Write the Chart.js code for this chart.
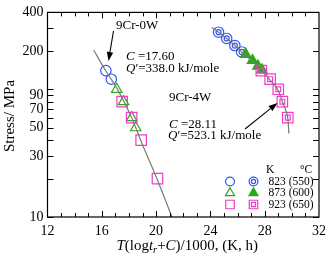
<!DOCTYPE html>
<html><head><meta charset="utf-8">
<script src="https://cdn.jsdelivr.net/npm/chart.js@4.4.0/dist/chart.umd.min.js"></script>
<style>html,body{margin:0;padding:0;background:#fff}</style>
</head><body>
<canvas id="c" width="332" height="260" style="display:block;width:332px;height:260px"></canvas>
<script>
// ---- tick labels ----
const xTickLabels = [12, 16, 20, 24, 28, 32];
const yTickLabels = [10, 30, 50, 70, 90, 200, 400];
const yMinorTicks = [20, 40, 60, 80, 100, 300];

// ---- 9Cr-0W (open markers) ----
const lmp0W_823 = [16.3, 16.7];
const sig0W_823 = [140, 120];
const lmp0W_873 = [17.1, 17.6, 18.2, 18.5];
const sig0W_873 = [100, 80, 60, 50];
const lmp0W_923 = [17.5, 18.2, 18.9, 20.1];
const sig0W_923 = [80, 60, 40, 20];
const fit0W_lmp = [15.4, 16.3, 17.2, 18.2, 18.9, 20.1, 21.25];
const fit0W_sig = [203, 139, 98, 60, 39, 19.5, 9.5];

// ---- 9Cr-4W (double / filled markers) ----
const lmp4W_823 = [24.6, 25.2, 25.8, 26.3];
const sig4W_823 = [280, 250, 220, 196];
const lmp4W_873 = [26.6, 27.1, 27.5, 27.8];
const sig4W_873 = [188, 168, 152, 142];
const lmp4W_923 = [27.75, 28.4, 29.0, 29.3, 29.7];
const sig4W_923 = [140, 120, 100, 80, 60];
const fit4W_lmp = [24.1, 24.6, 25.2, 25.8, 26.3, 26.9, 27.5, 28.0, 28.4, 29.0, 29.3, 29.58, 29.72, 29.78];
const fit4W_sig = [305, 280, 250, 220, 196, 172, 151, 133, 118, 98, 80, 67, 57, 45];

const BLUE = '#2f55f5', GREEN = '#2aa818', MAG = '#f23cc8', GRAY = '#7a7a7a';
const SERIF = "'Liberation Serif','Times New Roman',serif";

const pts = (xs, ys) => xs.map((x, i) => ({x: x, y: ys[i]}));
const marker = (xs, ys, style, r, color, fill, bw) => ({
  data: pts(xs, ys), pointStyle: style, pointRadius: r, pointBorderColor: color,
  pointBackgroundColor: fill, pointBorderWidth: bw || 1.2, showLine: false, clip: false
});
const fitLine = (xs, ys) => ({
  data: pts(xs, ys), showLine: true, pointRadius: 0, borderColor: GRAY, borderWidth: 1.2,
  cubicInterpolationMode: 'monotone', fill: false, clip: 0
});

const datasets = [
  fitLine(fit0W_lmp, fit0W_sig),
  fitLine(fit4W_lmp, fit4W_sig),
  marker(lmp0W_923, sig0W_923, 'rect', 7.4, MAG, 'rgba(0,0,0,0)'),
  marker(lmp0W_873, sig0W_873, 'triangle', 6.0, GREEN, 'rgba(0,0,0,0)'),
  marker(lmp0W_823, sig0W_823, 'circle', 5.2, BLUE, 'rgba(0,0,0,0)'),
  marker(lmp4W_923, sig4W_923, 'rect', 7.4, MAG, 'rgba(0,0,0,0)'),
  marker(lmp4W_923, sig4W_923, 'rect', 3.4, MAG, 'rgba(0,0,0,0)'),
  marker(lmp4W_873, sig4W_873, 'triangle', 6.0, GREEN, GREEN),
  marker(lmp4W_823, sig4W_823, 'circle', 5.2, BLUE, 'rgba(0,0,0,0)'),
  marker(lmp4W_823, sig4W_823, 'circle', 2.5, BLUE, 'rgba(0,0,0,0)')
];

function drawRich(ctx, segs, x, y, size, align) {
  let total = 0;
  const widths = segs.map(s => {
    const fs = s.sub ? size * 0.7 : size;
    ctx.font = (s.italic ? 'italic ' : '') + fs + 'px ' + SERIF;
    const w = ctx.measureText(s.t).width;
    total += w; return w;
  });
  let cx = align === 'center' ? x - total / 2 : x;
  segs.forEach((s, i) => {
    const fs = s.sub ? size * 0.7 : size;
    ctx.font = (s.italic ? 'italic ' : '') + fs + 'px ' + SERIF;
    ctx.fillText(s.t, cx, y + (s.sub ? size * 0.25 : 0));
    cx += widths[i];
  });
}

function arrow(ctx, x1, y1, x2, y2) {
  const a = Math.atan2(y2 - y1, x2 - x1), L = 9, W = 3.2;
  ctx.beginPath(); ctx.moveTo(x1, y1);
  ctx.lineTo(x2 - L * Math.cos(a), y2 - L * Math.sin(a)); ctx.stroke();
  ctx.beginPath(); ctx.moveTo(x2, y2);
  ctx.lineTo(x2 - L * Math.cos(a) + W * Math.sin(a), y2 - L * Math.sin(a) - W * Math.cos(a));
  ctx.lineTo(x2 - L * Math.cos(a) - W * Math.sin(a), y2 - L * Math.sin(a) + W * Math.cos(a));
  ctx.closePath(); ctx.fill();
}

const decor = {
  id: 'decor',
  afterDraw(chart) {
    const ctx = chart.ctx, a = chart.chartArea;
    const xs = chart.scales.x, ys = chart.scales.y;
    ctx.save();
    ctx.strokeStyle = '#000'; ctx.fillStyle = '#000'; ctx.lineWidth = 1.2;
    ctx.strokeRect(a.left, a.top, a.right - a.left, a.bottom - a.top);
    ctx.lineWidth = 1;
    for (let v = xTickLabels[0] + 1; v < xTickLabels[xTickLabels.length - 1]; v++) {
      const px = Math.round(xs.getPixelForValue(v)) + 0.5;
      const len = xTickLabels.includes(v) ? 6 : 4;
      ctx.beginPath();
      ctx.moveTo(px, a.bottom); ctx.lineTo(px, a.bottom - len);
      ctx.moveTo(px, a.top); ctx.lineTo(px, a.top + len);
      ctx.stroke();
    }
    yTickLabels.concat(yMinorTicks).forEach(v => {
      const py = Math.round(ys.getPixelForValue(v)) + 0.5;
      ctx.beginPath();
      ctx.moveTo(a.left, py); ctx.lineTo(a.left + 6, py);
      ctx.moveTo(a.right, py); ctx.lineTo(a.right - 6, py);
      ctx.stroke();
    });
    // annotations
    ctx.textBaseline = 'middle'; ctx.textAlign = 'left';
    drawRich(ctx, [{t: '9Cr-0W'}], 116, 26, 13);
    drawRich(ctx, [{t: 'C', italic: true}, {t: ' =17.60'}], 126, 57, 13);
    drawRich(ctx, [{t: 'Q', italic: true}, {t: '\u2032'}, {t: '=338.0 kJ/mole'}], 126, 68.5, 13);
    drawRich(ctx, [{t: '9Cr-4W'}], 169, 98, 13);
    drawRich(ctx, [{t: 'C', italic: true}, {t: ' =28.11'}], 169, 125, 13);
    drawRich(ctx, [{t: 'Q', italic: true}, {t: '\u2032'}, {t: '=523.1 kJ/mole'}], 168, 135.5, 13);
    ctx.lineWidth = 1.1;
    arrow(ctx, 113.5, 31, 108.5, 61);
    arrow(ctx, 245, 129, 277.5, 103);
    // legend
    drawRich(ctx, [{t: 'K'}], 266, 169.5, 11.5);
    drawRich(ctx, [{t: '\u00B0C'}], 300, 169.5, 11.5);
    const rows = [
      {y: 181.5, c: BLUE, s: 'circle', r: 4.4, txt: '823 (550)'},
      {y: 193, c: GREEN, s: 'triangle', r: 5.2, txt: '873 (600)'},
      {y: 204.5, c: MAG, s: 'rect', r: 6.0, txt: '923 (650)'}
    ];
    rows.forEach(rw => {
      ctx.strokeStyle = rw.c; ctx.lineWidth = 1.2;
      ctx.fillStyle = 'rgba(0,0,0,0)';
      Chart.helpers.drawPoint(ctx, {pointStyle: rw.s, radius: rw.r, borderWidth: 1.2, rotation: 0}, 230, rw.y);
      ctx.fillStyle = rw.s === 'triangle' ? rw.c : 'rgba(0,0,0,0)';
      Chart.helpers.drawPoint(ctx, {pointStyle: rw.s, radius: rw.r, borderWidth: 1.2, rotation: 0}, 253.5, rw.y);
      if (rw.s !== 'triangle') {
        ctx.fillStyle = 'rgba(0,0,0,0)';
        Chart.helpers.drawPoint(ctx, {pointStyle: rw.s, radius: rw.r * 0.48, borderWidth: 1.2, rotation: 0}, 253.5, rw.y);
      }
      ctx.fillStyle = '#000';
      drawRich(ctx, [{t: rw.txt}], 268.5, rw.y, 11.5);
    });
    // axis titles
    ctx.fillStyle = '#000';
    drawRich(ctx, [{t: 'T', italic: true}, {t: '(log'}, {t: 't', italic: true}, {t: 'r', italic: true, sub: true},
      {t: '+'}, {t: 'C', italic: true}, {t: ')/1000, (K, h)'}], (a.left + a.right) / 2 + 4, 246.5, 15, 'center');
    ctx.save();
    ctx.translate(10, 116); ctx.rotate(-Math.PI / 2);
    drawRich(ctx, [{t: 'Stress/ MPa'}], 0, 0, 15, 'center');
    ctx.restore();
    ctx.restore();
  }
};

new Chart(document.getElementById('c'), {
  type: 'scatter',
  data: {datasets: datasets},
  plugins: [decor],
  options: {
    responsive: false, animation: false, events: [],
    layout: {padding: {top: 7, right: 9, left: 0, bottom: 0}},
    plugins: {legend: {display: false}, tooltip: {enabled: false}},
    scales: {
      x: {
        type: 'linear', min: 12, max: 32,
        grid: {display: false, drawTicks: false}, border: {display: false},
        afterBuildTicks: s => { s.ticks = xTickLabels.map(v => ({value: v})); },
        ticks: {padding: 6, color: '#000', font: {family: SERIF, size: 14}, maxRotation: 0, autoSkip: false},
        afterFit: s => { s.height = 43; }
      },
      y: {
        type: 'logarithmic', min: 10, max: 400,
        grid: {display: false, drawTicks: false}, border: {display: false},
        afterBuildTicks: s => { s.ticks = yTickLabels.map(v => ({value: v})); },
        ticks: {padding: 4, color: '#000', font: {family: SERIF, size: 14}, autoSkip: false,
          callback: v => String(v)},
        afterFit: s => { s.width = 47.5; }
      }
    }
  }
});
</script>
</body></html>
